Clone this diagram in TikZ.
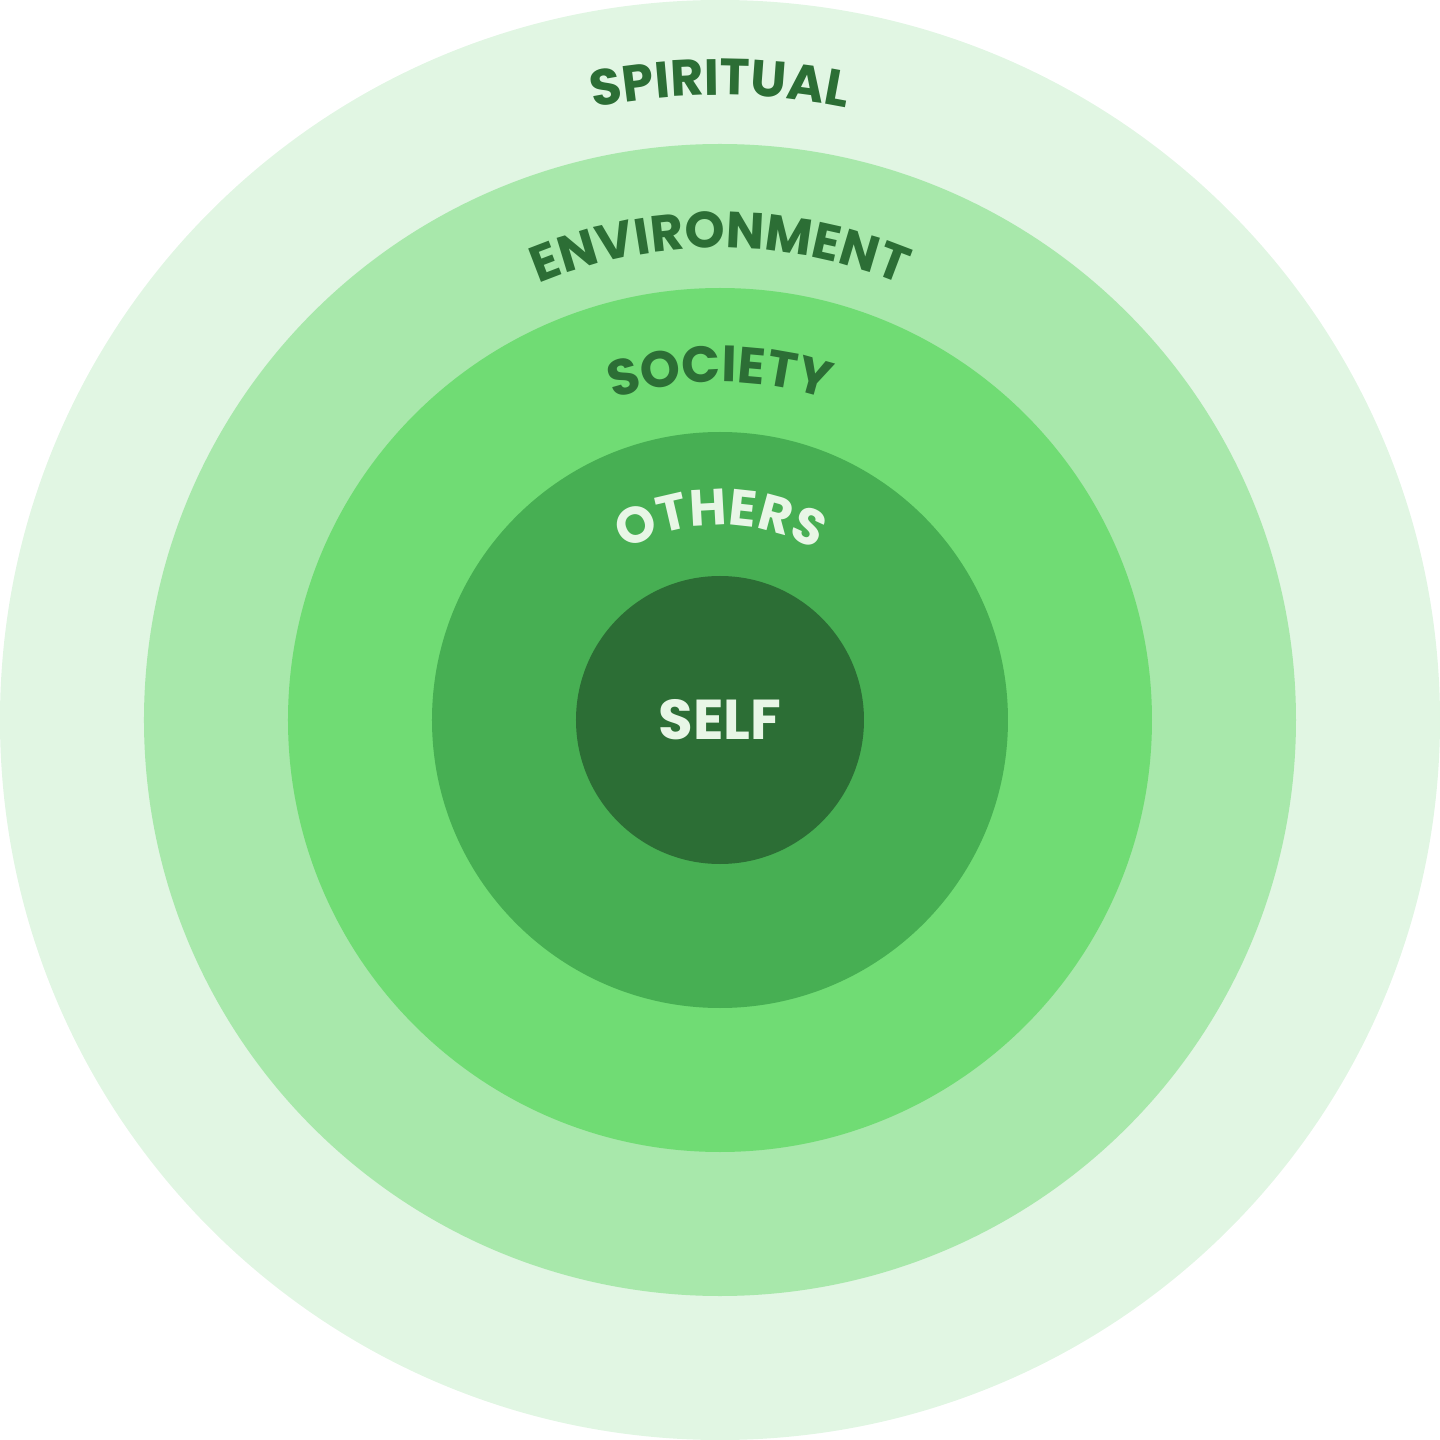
\documentclass[tikz,border=0pt]{standalone}
\usepackage{fontspec}
\newfontfamily\lblfont{Poppins}
\usetikzlibrary{decorations.text}
\definecolor{c1}{HTML}{E1F6E3}
\definecolor{c2}{HTML}{A8E8AB}
\definecolor{c3}{HTML}{70DC74}
\definecolor{c4}{HTML}{47AF53}
\definecolor{c5}{HTML}{2C6E35}
\definecolor{lt}{HTML}{E8F6E6}
\tikzset{ring/.style={circle,inner sep=0pt,draw=none},
 arclbl/.style 2 args={decorate,decoration={text along path,text align=center,text color=#2,
   text={|\lblfont\bfseries\fontsize{14.5}{14.5}\selectfont|#1}}}}
\begin{document}
\begin{tikzpicture}
\useasboundingbox (-7.2,-7.2) rectangle (7.2,7.2);
\node[ring,fill=c1,minimum size=14.4cm] (spiritual) at (0,0) {};
\node[ring,fill=c2,minimum size=11.52cm] (environment) at (0,0) {};
\node[ring,fill=c3,minimum size=8.64cm] (society) at (0,0) {};
\node[ring,fill=c4,minimum size=5.76cm] (others) at (0,0) {};
\node[ring,fill=c5,minimum size=2.88cm,text=lt,font=\lblfont\bfseries\fontsize{16}{16}\selectfont] (self) at (0,0) {SELF};
\path[arclbl={SPIRITUAL}{c5}] (-6.25,0) arc (180:0:6.25);
\path[arclbl={ENVIRONMENT}{c5}] (-4.72,0) arc (180:0:4.72);
\path[arclbl={SOCIETY}{c5}] (-3.38,0) arc (180:0:3.38);
\path[arclbl={OTHERS}{lt}] (-1.95,0) arc (180:0:1.95);
\end{tikzpicture}
\end{document}
